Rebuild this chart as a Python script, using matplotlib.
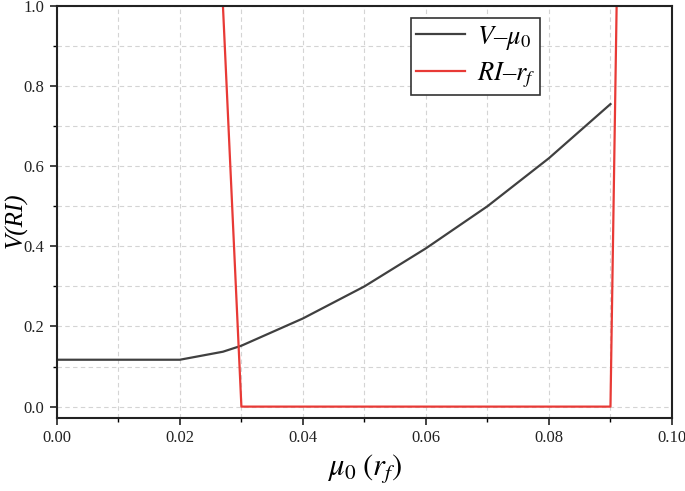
import matplotlib
matplotlib.use("Agg")
import matplotlib.pyplot as plt
from matplotlib.ticker import MultipleLocator

plt.rcParams['font.family'] = ['Liberation Serif', 'DejaVu Serif']
plt.rcParams['mathtext.fontset'] = 'stix'

# Data
v_x = [0.00, 0.01, 0.02, 0.027, 0.03, 0.04, 0.05, 0.06, 0.07, 0.08, 0.09]
v_y = [0.117, 0.117, 0.117, 0.137, 0.152, 0.22, 0.30, 0.395, 0.50, 0.62, 0.755]
ri_x = [0.027, 0.03, 0.04, 0.05, 0.06, 0.07, 0.08, 0.09, 0.091]
ri_y = [1.0, 0.0, 0.0, 0.0, 0.0, 0.0, 0.0, 0.0, 1.0]
labels = ['$V$–$\\mu_0$', '$RI$–$r_f$']

fig = plt.figure(figsize=(6.85, 4.91), dpi=100)
ax = fig.add_axes([0.083, 0.149, 0.898, 0.839])

ax.plot(v_x, v_y, color='#404040', lw=1.6, label=labels[0])
ax.plot(ri_x, ri_y, color='#e83a36', lw=1.6, label=labels[1])

ax.set_xlim(0, 0.10)
ax.set_ylim(-0.028, 1.0)
ax.xaxis.set_major_locator(MultipleLocator(0.02))
ax.xaxis.set_minor_locator(MultipleLocator(0.01))
ax.yaxis.set_major_locator(MultipleLocator(0.2))
ax.yaxis.set_minor_locator(MultipleLocator(0.1))
ax.set_xticklabels([f'{v:.2f}' for v in ax.get_xticks()])
ax.set_yticklabels([f'{v:.1f}' for v in ax.get_yticks()])

ax.grid(True, which='both', color='#d4d4d4', ls=(0, (4, 3)), lw=0.8)
ax.set_axisbelow(True)
ax.tick_params(which='major', direction='out', length=5, width=1.2, labelsize=12,
               top=False, right=False, colors='#222222', pad=4)
ax.tick_params(which='minor', direction='out', length=3, width=1.0, top=False, right=False)
for s in ax.spines.values():
    s.set_linewidth(1.5)
    s.set_color('#222222')

ax.set_xlabel(r'$\mu_0\;(r_f)$', fontsize=22, labelpad=4)
ax.set_ylabel('V(RI)', fontsize=18, style='italic')
ax.yaxis.set_label_coords(-0.048, 0.48)

leg = ax.legend(loc='upper left', bbox_to_anchor=(0.575, 0.97), fontsize=19,
                frameon=True, fancybox=False, handlelength=1.85, borderpad=0.2,
                labelspacing=0.35, handletextpad=0.45, borderaxespad=0)
leg.get_frame().set_edgecolor('#333333')
leg.get_frame().set_linewidth(1.2)
leg.get_frame().set_alpha(1)

fig.savefig('out.png', dpi=100)
